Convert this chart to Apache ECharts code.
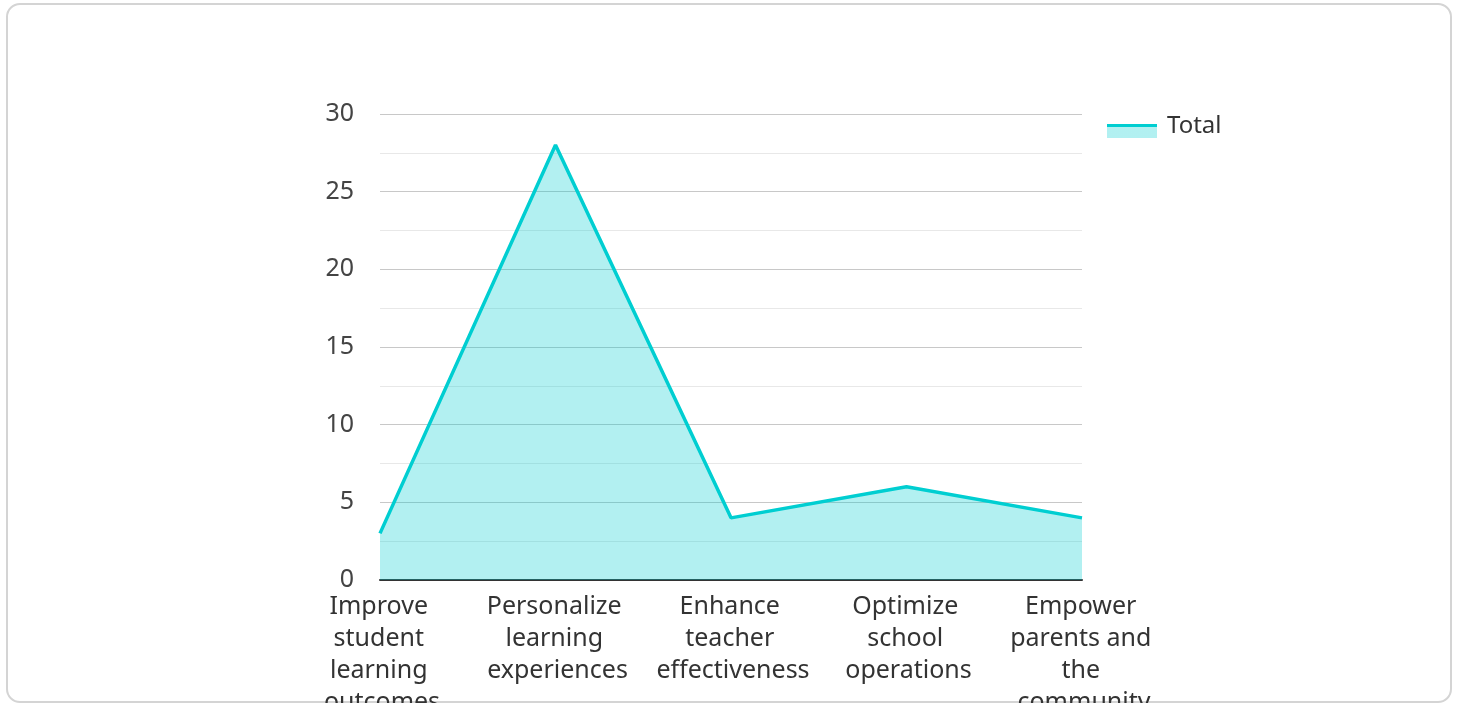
<!DOCTYPE html>
<html>
<head>
<meta charset="utf-8">
<script src="https://cdn.jsdelivr.net/npm/echarts@6/dist/echarts.min.js"></script>
<style>
  html, body { margin: 0; padding: 0; background: #fff; overflow: hidden; }
  .card {
    position: absolute; left: 6px; top: 3px; width: 1442px; height: 696px;
    border: 2px solid #d4d4d4; border-radius: 14px; background: #fff;
  }
  #chart { position: absolute; left: 0; top: 0; width: 1458px; height: 703px; }
</style>
</head>
<body>
<div class="card"></div>
<div id="chart"></div>
<script>
// categories and values
const categories = [
  'Improve student learning outcomes',
  'Personalize learning experiences',
  'Enhance teacher effectiveness',
  'Optimize school operations',
  'Empower parents and the community'
];
const totals = [3, 28, 4, 6, 4];
const seriesName = 'Total';

const lineColor = '#00CED1';
const fillColor = 'rgba(0, 206, 209, 0.3)';
const fontFamily = '"Noto Sans", sans-serif';

const chart = echarts.init(document.getElementById('chart'));

const option = {
  animation: false,
  textStyle: { fontFamily: fontFamily },
  grid: {
    left: 380, right: 376, top: 114, bottom: 123,
    containLabel: false,
    outerBoundsMode: 'none'
  },
  legend: {
    data: [seriesName],
    left: 1107,
    top: 112,
    padding: 0,
    icon: 'rect',
    itemWidth: 50,
    itemHeight: 28,
    itemStyle: {
      // line on top, light fill underneath
      color: {
        type: 'linear', x: 0, y: 0, x2: 0, y2: 1,
        colorStops: [
          { offset: 0, color: 'rgba(255,255,255,0)' },
          { offset: 0.43, color: 'rgba(255,255,255,0)' },
          { offset: 0.43, color: lineColor },
          { offset: 0.54, color: lineColor },
          { offset: 0.54, color: fillColor },
          { offset: 0.93, color: fillColor },
          { offset: 0.93, color: 'rgba(255,255,255,0)' },
          { offset: 1, color: 'rgba(255,255,255,0)' }
        ]
      },
      borderWidth: 0
    },
    textStyle: { color: '#333', fontSize: 24, fontFamily: fontFamily, padding: [0, 0, 0, 5] }
  },
  xAxis: {
    type: 'category',
    data: categories,
    boundaryGap: false,
    axisLine: { show: true, lineStyle: { color: '#333', width: 2 } },
    axisTick: { show: false },
    splitLine: { show: false },
    axisLabel: {
      interval: 0,
      color: '#333',
      fontSize: 25,
      lineHeight: 32,
      margin: 11,
      width: 165,
      overflow: 'break',
      align: 'center',
      padding: [0, 0, 0, 4]
    }
  },
  yAxis: {
    type: 'value',
    min: 0,
    max: 30,
    interval: 5,
    axisLine: { show: false },
    axisTick: { show: false },
    axisLabel: { color: '#444', fontSize: 25, margin: 26 },
    splitLine: { show: true, lineStyle: { color: '#c8c8c8', width: 1 } },
    minorTick: { show: false, splitNumber: 2 },
    minorSplitLine: { show: true, lineStyle: { color: '#e8e8e8', width: 1 } }
  },
  series: [{
    name: seriesName,
    type: 'line',
    data: totals,
    symbol: 'none',
    lineStyle: { color: lineColor, width: 3.5 },
    itemStyle: { color: lineColor },
    areaStyle: { color: fillColor, opacity: 1 }
  }]
};

chart.setOption(option);
</script>
</body>
</html>
